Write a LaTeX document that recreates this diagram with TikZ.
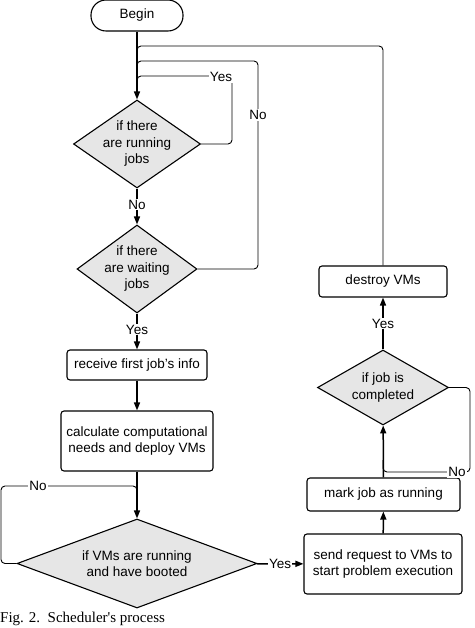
\documentclass[tikz,border=0pt]{standalone}
\usepackage{fontspec}
\setmainfont{Liberation Sans}
\newfontfamily\capfont{Liberation Serif}
\usetikzlibrary{shapes.geometric,arrows.meta}
\definecolor{dfill}{HTML}{E6E6E6}
\begin{document}
\begin{tikzpicture}[x=1pt,y=-1pt,
  font=\fontsize{13.5}{16.5}\selectfont,
  proc/.style={draw, rounded corners=3pt, line width=1.1pt, align=center, inner sep=0pt},
  dec/.style={diamond, draw, fill=dfill, line width=1.1pt, inner sep=0pt},
  dtext/.style={align=center, inner sep=0pt},
  arr/.style={line width=1.5pt, -{Triangle[length=8pt,width=6pt]}},
  lp/.style={line width=0.9pt, rounded corners=4pt},
  lbl/.style={fill=white, inner sep=1pt}
]
\useasboundingbox (0,0) rectangle (474,628);

% nodes
\node[draw, line width=1.1pt, rounded corners=15pt, minimum width=92pt, minimum height=31pt, inner sep=0pt] (begin) at (137,15.5) {Begin};

\node[dec, minimum width=127pt, minimum height=88pt] (d1) at (137,144) {};
\node[dtext] (t1) at (d1) {if there\\are running\\jobs};

\node[dec, minimum width=120pt, minimum height=88pt] (d2) at (137,269) {};
\node[dtext] (t2) at (d2) {if there\\are waiting\\jobs};

\node[proc, minimum width=140pt, minimum height=30pt] (b1) at (137,365) {receive first job's info};
\node[proc, minimum width=152pt, minimum height=60pt] (b2) at (137,441) {calculate computational\\needs and deploy VMs};

\node[dec, minimum width=240pt, minimum height=89pt] (d3) at (137,563.5) {};
\node[dtext] (t3) at (d3) {if VMs are running\\and have booted};

\node[proc, minimum width=158pt, minimum height=60pt] (b3) at (383,564) {send request to VMs to\\start problem execution};
\node[proc, minimum width=153pt, minimum height=33pt] (b4) at (383.5,494.5) {mark job as running};

\node[dec, minimum width=131pt, minimum height=75pt] (d4) at (383,387.5) {};
\node[dtext] (t4) at (d4) {if job is\\completed};

\node[proc, minimum width=128pt, minimum height=31pt] (b5) at (383,281.5) {destroy VMs};

% merge coordinates
\coordinate (m1) at (137,46);
\coordinate (m2) at (137,61);
\coordinate (m3) at (137,76);
\coordinate (m1e) at (137,58);
\coordinate (m2e) at (137,73);
\coordinate (m3e) at (137,88);
\coordinate (ya) at (232,144);
\coordinate (yb) at (232,76);
\coordinate (na) at (258,269);
\coordinate (nb) at (258,61);
\coordinate (la) at (1,563.5);
\coordinate (lb) at (1,486);
\coordinate (lm) at (137,486);
\coordinate (lme) at (137,498);
\coordinate (ra) at (470,387.5);
\coordinate (rb) at (470,472);
\coordinate (rm) at (383,472);
\coordinate (rme) at (383,460);
\coordinate (tb) at (383,46);

% main arrows
\draw[arr] (begin) -- (d1);
\draw[arr] (d1) -- node[lbl, pos=0.45] {No} (d2);
\draw[arr] (d2) -- node[lbl, pos=0.45] {Yes} (b1);
\draw[arr] (b1) -- (b2);
\draw[arr] (b2) -- (d3);
\draw[arr] (d3) -- node[lbl, pos=0.5] {Yes} (b3);
\draw[arr] (b3) -- (b4);
\draw[arr] (b4) -- (d4);
\draw[arr] (d4) -- node[lbl, pos=0.5] {Yes} (b5);

% loops
\draw[lp] (b5.north) -- (tb) -- (m1) -- (m1e);
\draw[lp] (d2.east) -- (na) -- (nb) -- (m2) -- (m2e);
\node[lbl] (nolbl) at (258,115) {No};
\draw[lp] (d1.east) -- (ya) -- (yb) -- (m3) -- (m3e);
\node[lbl] (yeslbl) at (221,77) {Yes};
\draw[lp] (d3.west) -- (la) -- (lb) -- (lm) -- (lme);
\node[lbl] (nolbl2) at (38,486) {No};
\draw[lp] (d4.east) -- (ra) -- (rb) -- (rm) -- (rme);
\node[lbl] (nolbl3) at (457,472) {No};

% caption
\node[anchor=base west, inner sep=0pt, font=\capfont\fontsize{15}{18}\selectfont] (cap) at (0,622.5) {Fig. 2.\ \ Scheduler's process};
\end{tikzpicture}
\end{document}
